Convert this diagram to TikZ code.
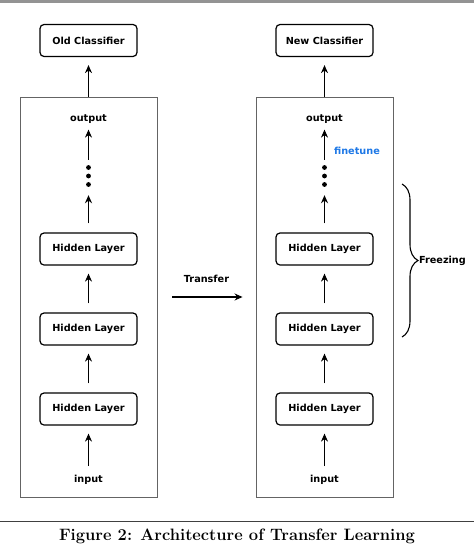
\documentclass[tikz,border=0pt]{standalone}
\usepackage{fontspec}
\usetikzlibrary{arrows.meta,decorations.pathreplacing}
\newfontfamily\diafont{DejaVu Sans}
\definecolor{tunecol}{RGB}{30,120,230}
\definecolor{framecol}{RGB}{100,100,100}
\tikzset{
  layer/.style={draw, rounded corners=4pt, line width=1.2pt, minimum width=97pt, minimum height=32pt, inner sep=0pt, font=\diafont\bfseries\fontsize{9.7}{11}\selectfont},
  lbl/.style={inner sep=0pt, font=\diafont\bfseries\fontsize{9.7}{11}\selectfont},
  netbox/.style={draw=framecol, line width=0.9pt, minimum width=137pt, minimum height=400pt, inner sep=0pt},
  vdots/.style={minimum width=5pt, minimum height=18pt, inner sep=0pt},
  flow/.style={-{Stealth[length=8pt,width=7pt]}, line width=1.3pt, shorten <=9pt, shorten >=8pt}
}
\begin{document}
\begin{tikzpicture}[x=1pt,y=-1pt]
    \useasboundingbox (0,0) rectangle (474,544);
    \fill[gray!85] (0,0) rectangle (474,2.5);
    % old network
    \node[netbox] (lbox) at (88.5,297) {};
    \node[layer] (oldcls) at (88.5,40.5) {Old Classifier};
    \node[lbl] (lout) at (88.5,119) {output};
    \node[vdots] (ldots) at (88.5,176) {};
    \node[layer] (lh1) at (88.5,249) {Hidden Layer};
    \node[layer] (lh2) at (88.5,329) {Hidden Layer};
    \node[layer] (lh3) at (88.5,409) {Hidden Layer};
    \node[lbl] (lin) at (88.5,480) {input};
    % new network
    \node[netbox] (rbox) at (324.5,297) {};
    \node[layer] (newcls) at (324.5,40.5) {New Classifier};
    \node[lbl] (rout) at (324.5,119) {output};
    \node[vdots] (rdots) at (324.5,176) {};
    \node[layer] (rh1) at (324.5,249) {Hidden Layer};
    \node[layer] (rh2) at (324.5,329) {Hidden Layer};
    \node[layer] (rh3) at (324.5,409) {Hidden Layer};
    \node[lbl] (rin) at (324.5,480) {input};
    \node[lbl, text=tunecol] (tune) at (357,151) {finetune};
    \foreach \d in {-8.5,0,8.5} {
        \fill (ldots.center) ++(0,\d) circle[radius=2.4pt];
        \fill (rdots.center) ++(0,\d) circle[radius=2.4pt];
    }
    \foreach \n in {l,r} {
        \draw[flow] (\n in) -- (\n h3);
        \draw[flow] (\n h3) -- (\n h2);
        \draw[flow] (\n h2) -- (\n h1);
        \draw[flow, shorten >=10pt] (\n h1) -- (\n dots);
        \draw[flow, shorten <=7pt, shorten >=6pt] (\n dots) -- (\n out);
    }
    \draw[flow, shorten <=0pt] (lbox) -- (oldcls);
    \draw[flow, shorten <=0pt] (rbox) -- (newcls);
    \draw[flow, shorten <=15pt, shorten >=13pt] (lbox) -- (rbox) node[lbl, midway, above=14pt] (tr) {Transfer};
    % freezing brace
    \coordinate (ftop) at (402,184);
    \coordinate (fbot) at (402,337);
    \draw[line width=1.1pt, decorate, decoration={brace, amplitude=16pt}] (ftop) -- (fbot) node[lbl, midway, right=16.5pt] (frz) {Freezing};
    % caption
    \draw[line width=0.9pt, black!75] (0,521) -- (474,521);
    \node[anchor=base, inner sep=0pt, font=\fontsize{16.5}{18}\selectfont\bfseries] (cap) at (237,540) {Figure 2: Architecture of Transfer Learning};
\end{tikzpicture}
\end{document}
